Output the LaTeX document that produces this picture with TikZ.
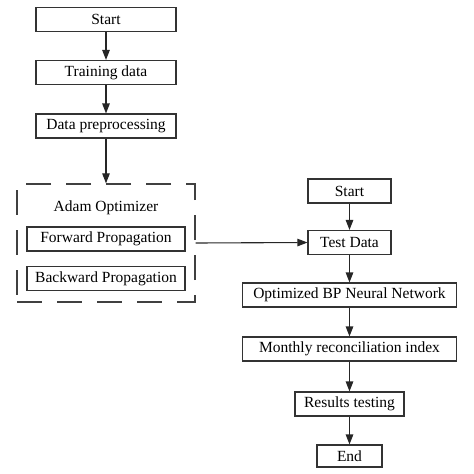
\documentclass[tikz,border=0pt]{standalone}
\usepackage{fontspec}
\setmainfont{Liberation Serif}
\usetikzlibrary{arrows.meta}

\begin{document}
\begin{tikzpicture}
                [x=1pt, y=-1pt,
                bsty/.style={draw=black!80, line width=1.1pt, inner sep=0pt, minimum height=24pt, font=\fontsize{15.5}{17}\selectfont},
                dsty/.style={draw=black!75, line width=1.3pt, dash pattern=on 25pt off 15pt, minimum width=178pt, minimum height=118pt, inner sep=0pt},
                asty/.style={-{Triangle[length=10pt, width=7.5pt]}, line width=1.1pt, black!85}]
                \useasboundingbox (0,0) rectangle (474,474);
                % nodes, left column
                \node[bsty, minimum width=140pt] (s1) at (106,19.5) {Start};
                \node[bsty, minimum width=140pt] (td) at (106,72.5) {Training data};
                \node[bsty, minimum width=140pt] (dp) at (106,126)  {Data preprocessing};
                \node[dsty] (adam) at (106,243) {};
                \node[font=\fontsize{15.5}{17}\selectfont] (ao) at (106,208) {Adam Optimizer};
                \node[bsty, minimum width=158pt] (fp) at (106,239)   {Forward Propagation};
                \node[bsty, minimum width=158pt] (bp) at (106,278.5) {Backward Propagation};
                % nodes, right column
                \node[bsty, minimum width=83pt]  (s2) at (349.5,191)   {Start};
                \node[bsty, minimum width=83pt]  (te) at (349.5,242.5) {Test Data};
                \node[bsty, minimum width=214pt] (bpn) at (349.5,295)  {Optimized BP Neural Network};
                \node[bsty, minimum width=214pt] (mr) at (349.5,349)   {Monthly reconciliation index};
                \node[bsty, minimum width=109pt] (rt) at (349.5,404)   {Results testing};
                \node[bsty, minimum width=65pt, minimum height=22pt] (en) at (349.5,456) {End};
                % arrows
                \draw[asty] (s1) -- (td);
                \draw[asty] (td) -- (dp);
                \draw[asty] (dp) -- (adam.north);
                \draw[asty] (adam.east) -- (te.west);
                \draw[asty] (s2) -- (te);
                \draw[asty] (te) -- (bpn);
                \draw[asty] (bpn) -- (mr);
                \draw[asty] (mr) -- (rt);
                \draw[asty] (rt) -- (en);
            \end{tikzpicture}
\end{document}
